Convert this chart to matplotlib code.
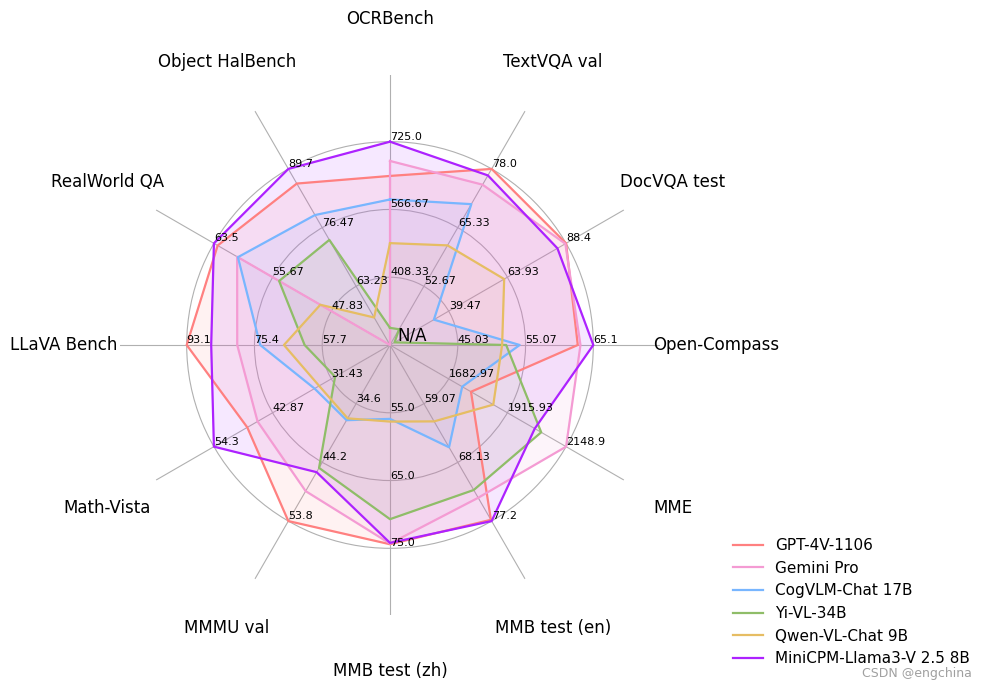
import numpy as np
import matplotlib
matplotlib.use("Agg")
import matplotlib.pyplot as plt

# ---- data ----
categories = ["OCRBench", "TextVQA val", "DocVQA test", "Open-Compass", "MME",
              "MMB test (en)", "MMB test (zh)", "MMMU val", "Math-Vista",
              "LLaVA Bench", "RealWorld QA", "Object HalBench"]
axis_min = [250, 40, 15, 35, 1450, 50, 45, 25, 20, 40, 40, 50]
axis_max = [725.0, 78.0, 88.4, 65.1, 2148.9, 77.2, 75.0, 53.8, 54.3, 93.1, 63.5, 89.7]

models = ["GPT-4V-1106", "Gemini Pro", "CogVLM-Chat 17B", "Yi-VL-34B",
          "Qwen-VL-Chat 9B", "MiniCPM-Llama3-V 2.5 8B"]
gpt4v   = [645, 78.0, 88.4, 62.8, 1771.5, 77.0, 74.4, 53.8, 47.8, 93.1, 63.0, 86.4]
gemini  = [680, 74.6, 88.1, 63.2, 2148.9, 73.6, 74.3, 48.9, 45.8, 79.9, 60.4, None]
cogvlm  = [590, 70.4, 33.3, 54.2, 1736.6, 65.8, 55.9, 37.3, 34.7, 73.9, 60.3, 79.3]
yivl    = [290, 43.4, 16.9, 52.2, 2050.2, 72.4, 70.7, 45.1, 30.7, 62.3, 54.8, 73.7]
qwenvl  = [488, 61.5, 62.6, 51.6, 1860.0, 61.8, 56.3, 37.0, 33.8, 67.7, 49.3, 56.2]
minicpm = [725, 76.6, 84.8, 65.1, 2024.6, 77.2, 74.2, 45.8, 54.3, 86.7, 63.5, 89.7]
series = [gpt4v, gemini, cogvlm, yivl, qwenvl, minicpm]

colors = ["#ff8080", "#f49bd3", "#78b6ff", "#8fbd68", "#e6bd63", "#ad22ff"]

# ---- figure ----
fig = plt.figure(figsize=(9.86, 6.9), dpi=100)
ax = fig.add_axes([120/986, 75/690, 540/986, 540/690], projection="polar")
ax.set_theta_offset(np.pi/2)
ax.set_theta_direction(-1)

n = len(categories)
angles = np.linspace(0, 2*np.pi, n, endpoint=False)

def norm(vals):
    out = []
    for v, lo, hi in zip(vals, axis_min, axis_max):
        out.append(0.0 if v is None else (v - lo) / (hi - lo))
    return out

handles = []
for name, vals, c in zip(models, series, colors):
    r = norm(vals)
    r = r + r[:1]
    th = list(angles) + [angles[0]]
    ln, = ax.plot(th, r, color=c, lw=1.6, label=name, zorder=3)
    ax.fill(th, r, color=c, alpha=0.1, zorder=2)
    handles.append(ln)

ax.set_ylim(0, 1.328)
ax.set_yticks([1/3, 2/3, 1.0])
ax.set_yticklabels([])
ax.set_xticks(angles)
ax.set_xticklabels([])
ax.grid(True, color="#b0b0b0", lw=0.8)
ax.spines["polar"].set_visible(False)
ax.set_facecolor("none")

# value labels along each axis
for i, ang in enumerate(angles):
    lo, hi = axis_min[i], axis_max[i]
    for k in (1, 2, 3):
        val = round(lo + (hi - lo) * k / 3, 2)
        ax.text(ang, k/3, str(val), fontsize=8, ha="left", va="bottom", zorder=5)
    ax.text(ang, 1.605, categories[i], fontsize=12, ha="center", va="center")

ax.annotate("N/A", xy=(0, 0), xytext=(5, 0), textcoords="offset points",
            fontsize=12, ha="left", va="bottom", zorder=6)

fig.legend(handles=handles, loc="lower left", bbox_to_anchor=(0.729, 0.0145),
           frameon=False, fontsize=11)

fig.text(0.9858, 0.0232, "CSDN @engchina", fontsize=9, color="#a0a0a0",
         ha="right", va="center")

fig.savefig("out.png", dpi=100)
